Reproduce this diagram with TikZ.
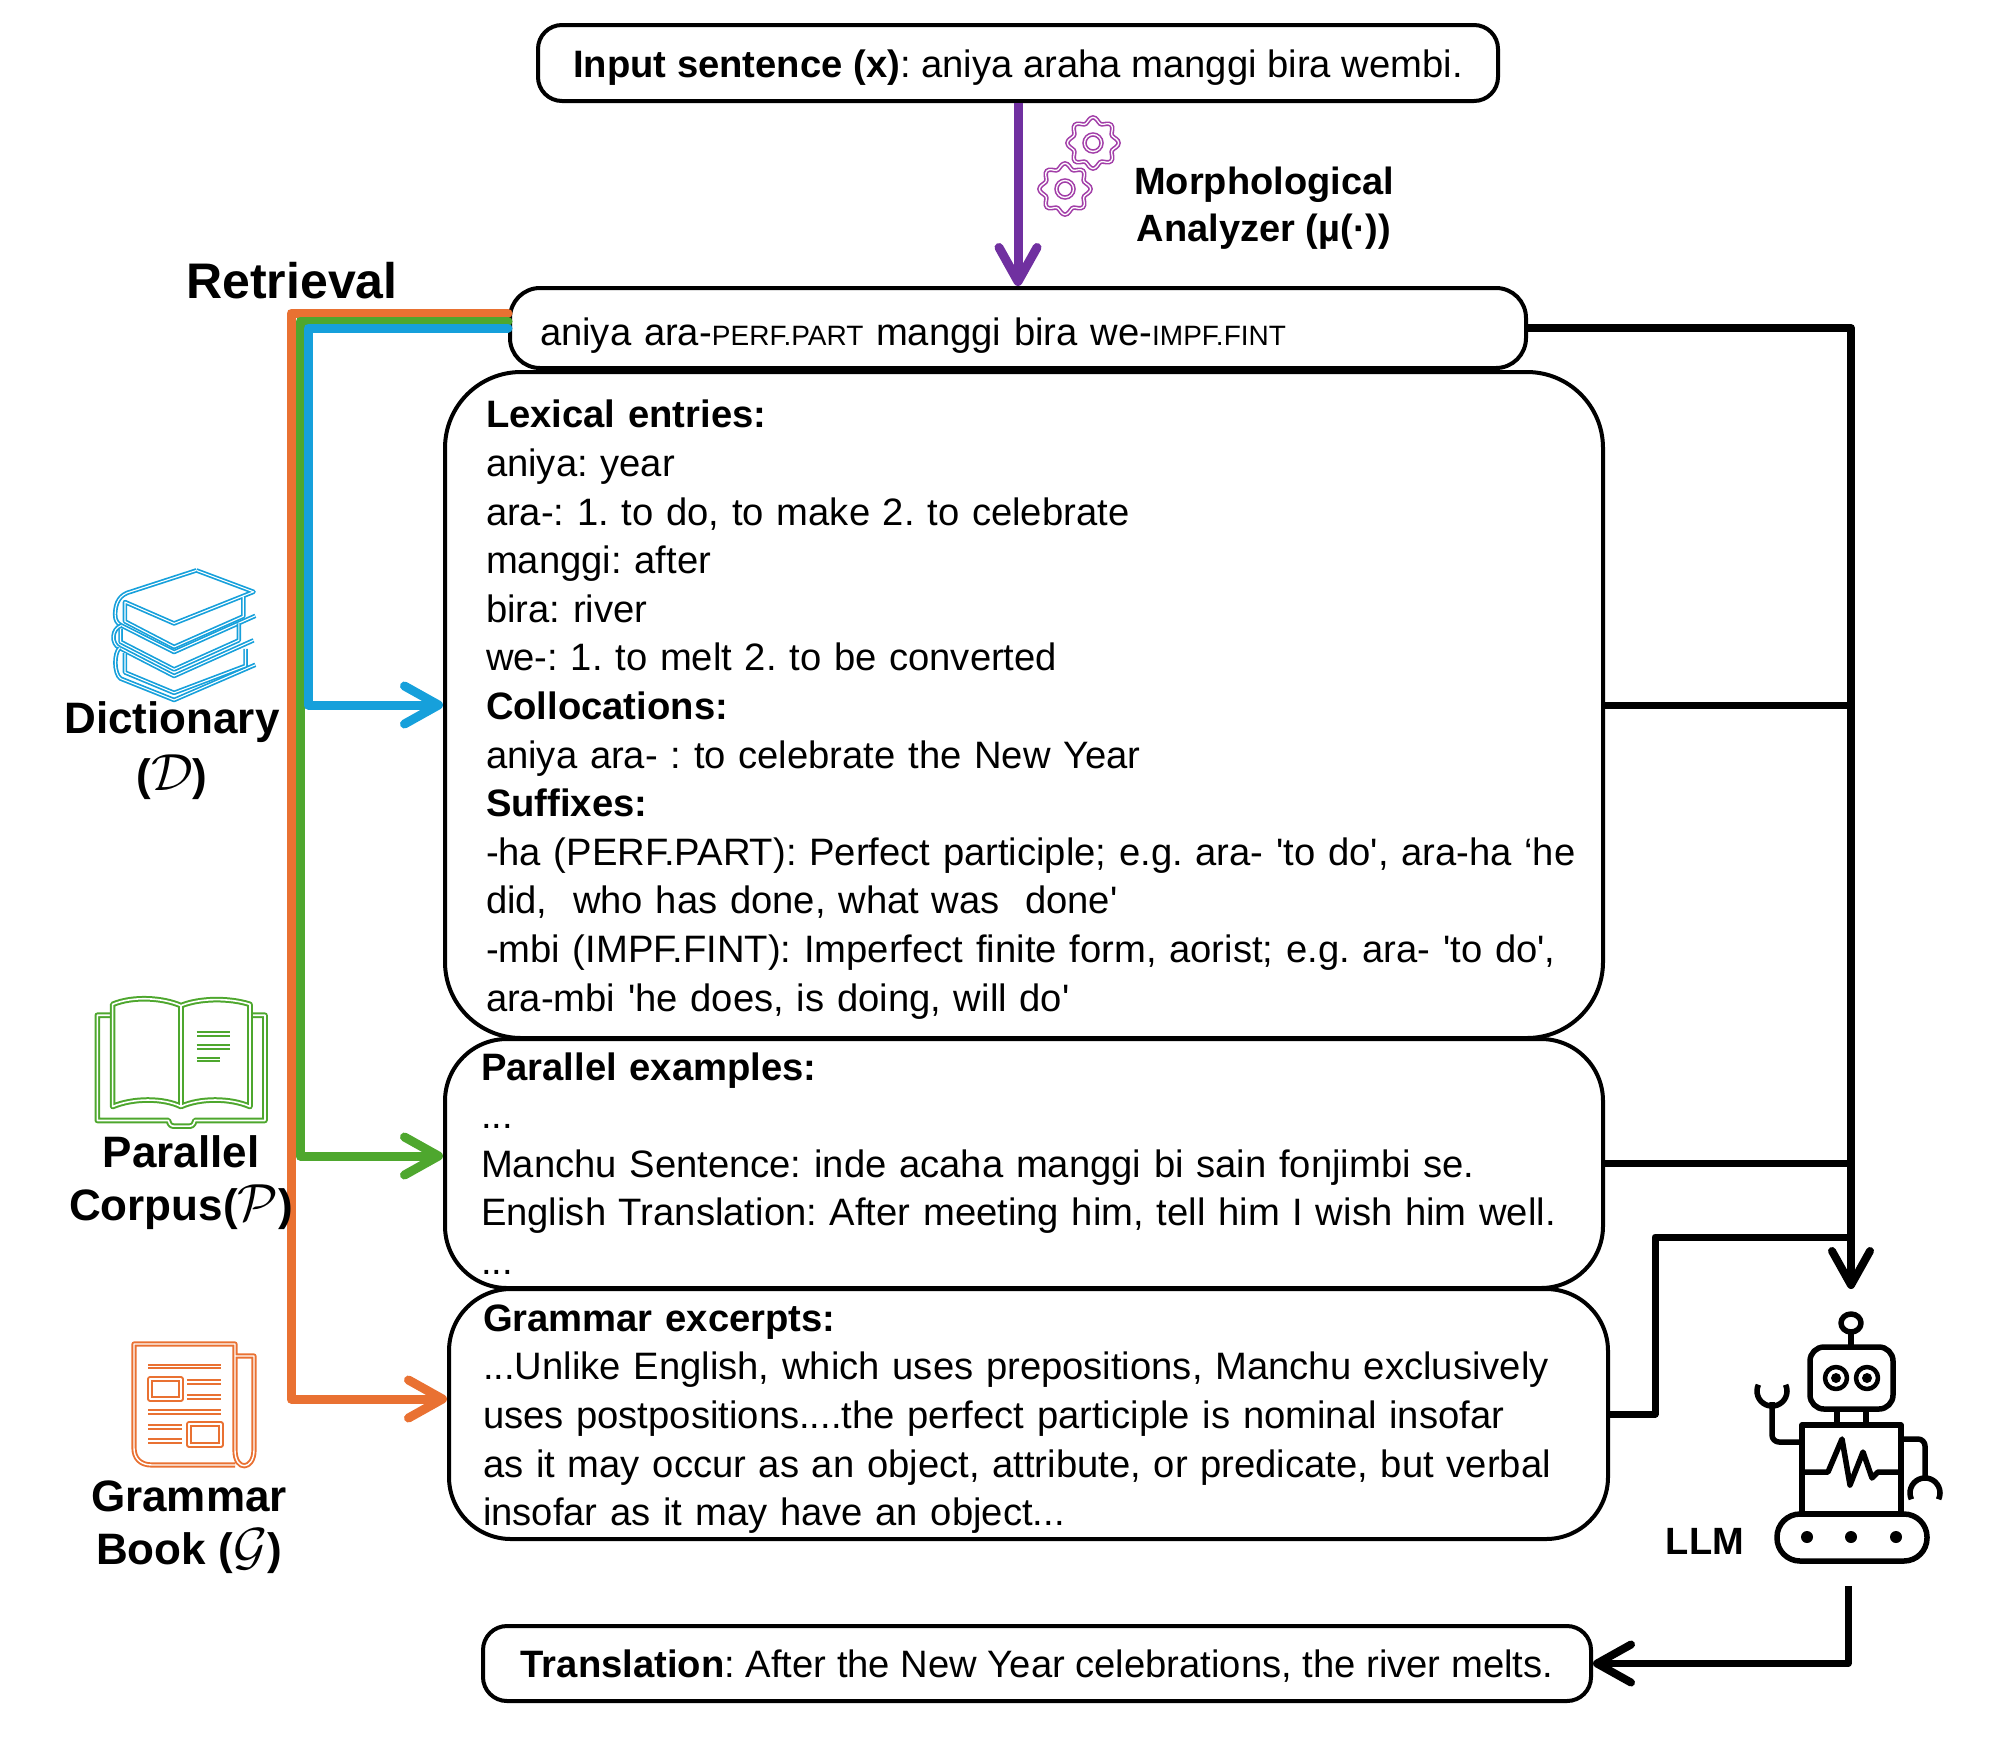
\documentclass[tikz,border=0pt]{standalone}
\usepackage{fontspec}
\usepackage{graphicx}
\setmainfont{Liberation Sans}
\usetikzlibrary{arrows.meta}
\definecolor{cblue}{HTML}{16A0DB}
\definecolor{cgreen}{HTML}{4EA72E}
\definecolor{corange}{HTML}{E97132}
\definecolor{cpurple}{HTML}{7030A0}
\definecolor{cgear}{HTML}{A23EA8}
\newcommand{\fsz}[1]{\fontsize{#1}{#1}\selectfont}
\newcommand{\bodyfont}{\fontsize{38.2}{48.6}\selectfont\frenchspacing}
\newcommand{\smallgloss}[1]{{\fontsize{28}{28}\selectfont #1}}
\newcommand{\scr}[1]{\scalebox{2.1}{$\mathcal{#1}$}}
\newcommand{\sq}{\textquotesingle}
\tikzset{
  x=1pt,y=-1pt,
  tbox/.style={draw=black,line width=4pt,fill=white,rectangle,inner sep=0pt,align=left,font=\bodyfont},
  lab/.style={inner sep=0pt,align=center},
  retr/.style={line width=9pt,line join=round,line cap=round},
  blk/.style={line width=7pt,draw=black,line join=round},
  barbwide/.style={-{Straight Barb[length=34pt,width=38pt,line width=9pt,round]}},
  barbblack/.style={-{Straight Barb[length=34pt,width=38pt,line width=8pt,round]}},
  gearline/.style={draw=cgear,line width=1.6pt,double=white,double distance=1.3pt},
  blueicon/.style={draw=cblue,line width=1.7pt,double=white,double distance=1.1pt,line join=round},
  greenicon/.style={draw=cgreen,line width=2pt,double=white,double distance=1.6pt,line join=round},
  orangeicon/.style={draw=corange,line width=1.9pt,double=white,double distance=1.4pt,line join=round},
  rob/.style={draw=black,line width=5.5pt,line join=round},
}
\begin{document}
\begin{tikzpicture}
\useasboundingbox (0,0) rectangle (1989,1746);
% boxes
\node[tbox,rounded corners=24pt,minimum width=960pt,minimum height=76pt] (input) at (1018,63)
  {\raisebox{-14.5pt}[0pt][0pt]{\textbf{Input sentence (x)}: aniya araha manggi bira wembi.}};
\node[tbox,rounded corners=30pt,minimum width=1016pt,minimum height=80pt,text width=956pt] (ana) at (1018,328)
  {\raisebox{-17pt}[0pt][0pt]{aniya ara-\smallgloss{PERF.PART} manggi bira we-\smallgloss{IMPF.FINT}}};
\node[tbox,rounded corners=76pt,minimum width=1158pt,minimum height=666pt,text width=1076pt] (lex) at (1024,705)
  {\rule{0pt}{37pt}\textbf{Lexical entries:}\\
   aniya: year\\
   ara-: 1. to do, to make 2. to celebrate\\
   manggi: after\\
   bira: river\\
   we-: 1. to melt 2. to be converted\\
   \textbf{Collocations:}\\
   aniya ara- : to celebrate the New Year\\
   \textbf{Suffixes:}\\
   \mbox{-ha (PERF.PART): Perfect participle; e.g. ara- \sq to do\sq, ara-ha ‘he}\\
   did,\ \ who has done, what was\ \ done\sq\\
   \mbox{-mbi (IMPF.FINT): Imperfect finite form, aorist; e.g. ara- \sq to do\sq,}\\
   ara-mbi \sq he does, is doing, will do\sq};
\node[tbox,rounded corners=62pt,minimum width=1158pt,minimum height=249pt,text width=1086pt] (par) at (1024,1163.5)
  {\textbf{Parallel examples:}\\
   ...\\
   Manchu Sentence: inde acaha manggi bi sain fonjimbi se.\\
   \mbox{English Translation: After meeting him, tell him I wish him well.}\\
   ...};
\node[tbox,rounded corners=62pt,minimum width=1159pt,minimum height=250pt,text width=1091pt] (gra) at (1028.5,1414)
  {\rule{0pt}{37pt}\textbf{Grammar excerpts:}\\
   \mbox{...Unlike English, which uses prepositions, Manchu exclusively}\\
   \mbox{uses postpositions....the perfect participle is nominal insofar}\\
   \mbox{as it may occur as an object, attribute, or predicate, but verbal}\\
   insofar as it may have an object...};
\node[tbox,rounded corners=24pt,minimum width=1108pt,minimum height=75pt] (out) at (1037,1663.5)
  {\raisebox{-14pt}[0pt][0pt]{\textbf{Translation}: After the New Year celebrations, the river melts.}};
% retrieval
\coordinate (corn1) at (291,313);
\coordinate (corn2) at (300,321);
\coordinate (corn3) at (308,328);
\coordinate (graIn) at ([yshift=15pt]gra.west);
\coordinate (parIn) at ([yshift=7.5pt]par.west);
\draw[retr,draw=corange,barbwide] (ana.west |- corn1) -- (corn1) -- (corn1 |- graIn) -- (graIn);
\draw[retr,draw=cgreen,barbwide] (ana.west |- corn2) -- (corn2) -- (corn2 |- parIn) -- (parIn);
\draw[retr,draw=cblue,barbwide] (ana.west |- corn3) -- (corn3) -- (corn3 |- lex.west) -- (lex.west);
% purple
\draw[draw=cpurple,line width=9pt,barbwide] (input.south -| ana.north) -- (ana.north);
% black connectors
\coordinate (bus) at (1851,1289);
\draw[blk,line width=8pt,barbblack] (ana.east) -- (ana.east -| bus) -- (bus);
\draw[blk] (lex.east) -- (lex.east -| bus);
\draw[blk] (par.east) -- (par.east -| bus);
\coordinate (gk) at (1655,1237);
\draw[blk] (gra.east) -- (gk |- gra.east) -- (gk) -- (gk -| bus);
\coordinate (llmout) at (1848,1586);
\draw[blk,barbblack] (llmout) -- (llmout |- out.east) -- (out.east);
% labels
\node[lab,font=\fsz{50}\bfseries] (retrieval) at (292,280.5) {Retrieval};
\node[lab,font=\fsz{38}\bfseries] (morph) at (1264,185) {Morphological};
\node[lab,font=\fsz{38}\bfseries] (analyzer) at (1264,232) {Analyzer (µ(·))};
\node[lab,font=\fsz{44}\bfseries] (dict) at (172,722) {Dictionary};
\node[lab,font=\fsz{44}\bfseries] (dictb) at (172,777) {(\scr{D})};
\node[lab,font=\fsz{44}\bfseries] (para) at (181,1152) {Parallel};
\node[lab,font=\fsz{44}\bfseries] (parb) at (181,1207) {Corpus(\scr{P})};
\node[lab,font=\fsz{44}\bfseries] (gram) at (189,1496) {Grammar};
\node[lab,font=\fsz{44}\bfseries] (gramb) at (189,1551) {Book (\scr{G})};
\node[lab,font=\fsz{38}\bfseries] (llm) at (1705,1541) {LLM};
% gears
\foreach \cx/\cy in {1093/143,1065/189}{
  \begin{scope}[shift={(\cx,\cy)}]
    \draw[gearline] plot[domain=0:355,samples=72,smooth cycle] ({\x}:{23+2.6*cos(8*\x)});
    \draw[gearline] (0,0) circle (8.5pt);
  \end{scope}
}
% dictionary icon
\begin{scope}[x=0.4464pt,y=-0.5102pt]
  \draw[blueicon] (440,1118) -- (568,1160) -- (390,1222) -- (280,1180) -- (280,1218) -- (390,1268) -- (545,1208) -- (545,1170);
  \draw[blueicon] (440,1118) -- (285,1162) .. controls (262,1170) and (258,1190) .. (258,1205) .. controls (258,1215) and (262,1222) .. (272,1226) -- (390,1278) -- (572,1207);
  \draw[blueicon] (272,1226) .. controls (250,1232) and (248,1262) .. (268,1270);
  \draw[blueicon] (270,1232) -- (270,1258) -- (390,1312) -- (535,1255) -- (535,1222);
  \draw[blueicon] (268,1270) -- (390,1325) -- (568,1255);
  \draw[blueicon] (268,1270) .. controls (255,1280) and (255,1320) .. (270,1330) -- (390,1372) -- (572,1303);
  \draw[blueicon] (280,1280) -- (280,1318) -- (390,1358) -- (550,1305) -- (550,1272);
\end{scope}
% parallel corpus icon
\begin{scope}[shift={(0,950)},x=0.3333pt,y=-0.4348pt]
  \draw[greenicon] (338,150) -- (292,150) -- (292,392) -- (505,392) .. controls (510,405) and (515,405) .. (525,405) -- (565,405) .. controls (575,405) and (580,405) .. (585,392) -- (795,392) -- (795,150) -- (750,150);
  \draw[greenicon] (543,128) .. controls (490,110) and (400,105) .. (338,125) -- (338,360) .. controls (400,340) and (490,340) .. (543,360) -- (543,128) .. controls (600,110) and (690,110) .. (750,125) -- (750,360) .. controls (690,340) and (600,340) .. (543,360);
  \draw[greenicon] (590,193) -- (690,193);
  \draw[greenicon] (590,223) -- (690,223);
  \draw[greenicon] (590,252) -- (660,252);
\end{scope}
% grammar book icon
\draw[orangeicon] (235,1465) -- (152,1465) .. controls (140,1465) and (134,1458) .. (134,1448) -- (134,1344) -- (235,1344) -- (235,1450) .. controls (235,1472) and (254,1470) .. (254,1450) -- (254,1356) -- (235,1356);
\draw[orangeicon] (148,1366.5) -- (221,1366.5);
\draw[orangeicon] (150,1379) rectangle (181,1399);
\draw[orangeicon] (187,1382) -- (221,1382);
\draw[orangeicon] (187,1397) -- (221,1397);
\draw[orangeicon] (148,1412) -- (221,1412);
\draw[orangeicon] (148,1427) -- (182,1427);
\draw[orangeicon] (148,1441) -- (182,1441);
\draw[orangeicon] (189,1424) rectangle (221,1445);
% robot
\draw[rob] (1851,1323) circle [x radius=10pt,y radius=9pt];
\draw[rob] (1851,1332) -- (1851,1347);
\draw[rob,rounded corners=14pt] (1810,1347) rectangle (1893,1409);
\draw[rob,line width=4.5pt] (1836,1378) circle (11pt);
\draw[rob,line width=4.5pt] (1867,1378) circle (11pt);
\fill (1836,1378) circle (5pt);
\fill (1867,1378) circle (5pt);
\draw[rob] (1837,1409) -- (1837,1425);
\draw[rob] (1866,1409) -- (1866,1425);
\draw[rob] (1802,1425) rectangle (1901,1514);
\draw[rob] (1805,1472) -- (1828,1472) -- (1842,1439) -- (1850,1485) -- (1863,1452) -- (1872,1478) -- (1878,1472) -- (1898,1472);
\draw[rob,rounded corners=7pt] (1802,1442) -- (1772,1442) -- (1772,1402);
\draw[rob] (1758.4,1384.7) arc[start angle=155,end angle=385,radius=15pt];
\draw[rob,rounded corners=7pt] (1901,1439) -- (1925,1439) -- (1925,1477);
\draw[rob] (1911.4,1499.3) arc[start angle=205,end angle=-25,radius=15pt];
\draw[rob,rounded corners=23pt] (1777,1514) rectangle (1927,1561);
\fill (1807,1537) circle (6pt);
\fill (1851,1537) circle (6pt);
\fill (1896,1537) circle (6pt);
\end{tikzpicture}
\end{document}
